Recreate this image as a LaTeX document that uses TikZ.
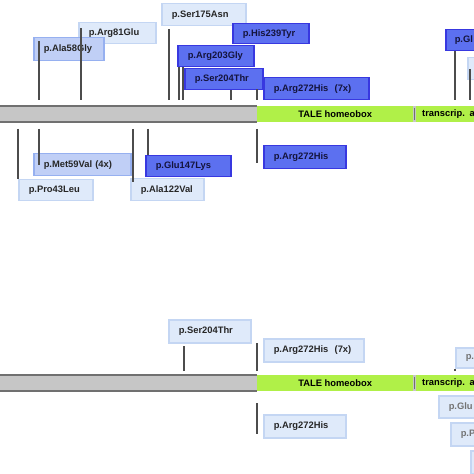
\documentclass[tikz,border=0pt]{standalone}
\usepackage{fontspec}
\setmainfont{Liberation Sans}

\definecolor{palefill}{RGB}{223,234,250}
\definecolor{paleedge}{RGB}{196,214,243}
\definecolor{midfill}{RGB}{192,207,246}
\definecolor{midedge}{RGB}{150,176,240}
\definecolor{deepfill}{RGB}{92,112,240}
\definecolor{deepedge}{RGB}{56,56,224}
\definecolor{deeptext}{RGB}{20,20,60}
\definecolor{boxgreen}{RGB}{176,240,72}
\definecolor{bargray}{RGB}{198,198,198}
\definecolor{baredge}{RGB}{112,112,112}

\newcommand{\mutfont}{\fontsize{9.4}{11}\selectfont\bfseries}

\begin{document}
\begin{tikzpicture}[x=1bp, y=-1bp,
    mutbox/.style={draw, line width=1.5bp, anchor=north west, inner xsep=10bp, inner ysep=0bp, align=left, font=\mutfont},
    pale/.style={mutbox, fill=palefill, draw=paleedge, text=black!85},
    mid/.style={mutbox, fill=midfill, draw=midedge, text=black!85},
    deep/.style={mutbox, fill=deepfill, draw=deepedge, text=deeptext},
    stick/.style={draw=black!70, line width=1.2bp},
    domainbox/.style={fill=boxgreen, anchor=north west, inner sep=0bp, minimum height=16bp, font=\mutfont}]
    \useasboundingbox (0,0) rectangle (474,474);
    \clip (0,0) rectangle (474,474);

    % Protein bars of both tracks
    \foreach \t/\dy in {a/0, b/269} {
        \fill[bargray] (-5,106+\dy) rectangle (257,122+\dy);
        \draw[baredge, line width=1.2bp] (-5,106+\dy) -- (257,106+\dy) (-5,122+\dy) -- (257,122+\dy);
        \node[domainbox, minimum width=156bp] (tale\t) at (257,106+\dy) {TALE homeobox};
        \node[domainbox, text width=60bp, align=left, inner xsep=6bp] (trans\t) at (416,106+\dy) {transcrip. a};
        \fill[bargray] (413,106+\dy) rectangle (416,122+\dy);
        \draw[baredge, line width=0.8bp] (414.5,108+\dy) -- (414.5,120+\dy);
    }

    % Track 1: variants above the bar
    \node[pale, text width=57bp, minimum height=21bp] (arg81) at (78,22) {p.Arg81Glu};
    \node[mid, text width=50bp, minimum height=23bp] (ala58) at (33,37) {p.Ala58Gly};
    \node[pale, text width=64bp, minimum height=22bp] (ser175) at (161,3) {p.Ser175Asn};
    \node[deep, text width=56bp, minimum height=20bp] (his239) at (232,23) {p.His239Tyr};
    \node[deep, text width=56bp, minimum height=21bp] (arg203) at (177,45) {p.Arg203Gly};
    \node[deep, text width=58bp, minimum height=21bp] (ser204) at (184,68) {p.Ser204Thr};
    \node[deep, text width=85bp, minimum height=22bp] (arg272) at (263,77) {p.Arg272His\ \ (7x)};
    \node[deep, text width=40bp, minimum height=21bp, inner xsep=9bp] (glu) at (445,29) {p.Gl};
    \node[pale, text width=20bp, minimum height=22bp] (cutbox) at (467,57) {};

    % Track 1: variants below the bar
    \node[mid, text width=77bp, minimum height=22bp] (met59) at (33,153) {p.Met59Val (4x)};
    \node[pale, text width=54bp, minimum height=21bp] (pro43) at (18,179) {p.Pro43Leu};
    \node[pale, text width=53bp, minimum height=22bp] (ala122) at (130,178) {p.Ala122Val};
    \node[deep, text width=65bp, minimum height=21bp] (glu147) at (145,155) {p.Glu147Lys};
    \node[deep, text width=62bp, minimum height=23bp] (arg272b) at (263,145) {p.Arg272His};

    % Track 2: variants
    \node[pale, text width=62bp, minimum height=23bp] (ser204c) at (168,319) {p.Ser204Thr};
    \node[pale, text width=80bp, minimum height=23bp] (arg272c) at (263,338) {p.Arg272His\ \ (7x)};
    \node[pale, text width=25bp, minimum height=20bp, text=black!55] (cutboxc) at (455,347) {p.};
    \node[pale, text width=62bp, minimum height=23bp] (arg272d) at (263,414) {p.Arg272His};
    \node[pale, text width=40bp, minimum height=22bp, text=black!55] (glud) at (438,395) {p.Glu};
    \node[pale, text width=30bp, minimum height=23bp, text=black!55] (prod) at (450,422) {p.P};
    \node[pale, text width=20bp, minimum height=23bp] (cutboxd) at (470,450) {};

    % Positions on the bars
    \foreach \n/\x in {58/39, 81/81, 175/169, 203/179, 204/183, 239/231, 272/257, glu/455, cut/470} {
        \coordinate (up\n) at (\x,100);
    }
    \foreach \n/\x in {43/18, 59/39, 122/133, 147/148, 272/257} {
        \coordinate (dn\n) at (\x,129);
    }
    \coordinate (lo204) at (184,371);
    \coordinate (lo272) at (257,371);
    \coordinate (locut) at (455,371);
    \coordinate (lo272b) at (257,403);

    % Sticks, track 1
    \draw[stick, shorten >=4bp] (up58) -- (up58 |- ala58.north);
    \draw[stick, shorten >=6bp] (up81) -- (up81 |- arg81.north);
    \draw[stick, shorten >=3bp] (up175) -- (up175 |- ser175.south);
    \draw[stick] (up203) -- (up203 |- arg203.south);
    \draw[stick] (up204) -- (up204 |- arg203.south);
    \draw[stick] (up239) -- (up239 |- ser204.south);
    \draw[stick] (up272) -- (up272 |- arg272.center);
    \draw[stick] (upglu) -- (upglu |- glu.south);
    \draw[stick] (upcut) -- (upcut |- cutbox.center);
    \draw[stick] (dn43) -- (dn43 |- pro43.north);
    \draw[stick] (dn59) -- (dn59 |- met59.center);
    \draw[stick, shorten >=-4bp] (dn122) -- (dn122 |- ala122.north);
    \draw[stick] (dn147) -- (dn147 |- glu147.north);
    \draw[stick, shorten >=6bp] (dn272) -- (dn272 |- arg272b.south);

    % Sticks, track 2
    \draw[stick, shorten >=2bp] (lo204) -- (lo204 |- ser204c.south);
    \draw[stick, shorten >=5bp] (lo272) -- (lo272 |- arg272c.north);
    \draw[stick] (locut) -- (cutboxc.south west);
    \draw[stick, shorten >=5bp] (lo272b) -- (lo272b |- arg272d.south);
\end{tikzpicture}
\end{document}
